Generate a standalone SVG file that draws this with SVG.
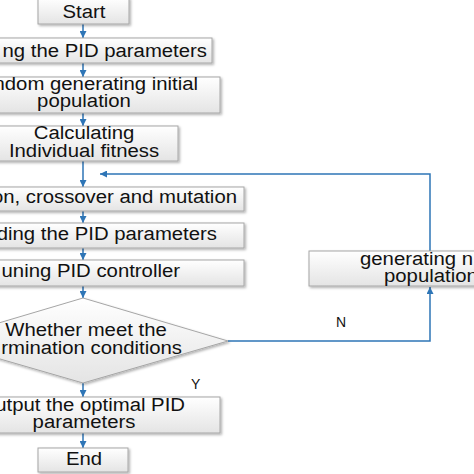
<svg xmlns="http://www.w3.org/2000/svg" width="474" height="474" viewBox="0 0 474 474">
<defs>
<linearGradient id="g" x1="0" y1="0" x2="0" y2="1">
<stop offset="0" stop-color="#ffffff"/>
<stop offset="1" stop-color="#e4e4e4"/>
</linearGradient>
<filter id="sh" x="-10%" y="-20%" width="130%" height="160%">
<feDropShadow dx="1.5" dy="1.5" stdDeviation="1" flood-color="#000" flood-opacity="0.3"/>
</filter>
<marker id="ah" viewBox="0 0 10 10" refX="10" refY="5" markerWidth="7" markerHeight="7" markerUnits="userSpaceOnUse" orient="auto">
<path d="M0,0 L10,5 L0,10 z" fill="#2e75b6"/>
</marker>
</defs>
<style>
.box{fill:url(#g);stroke:#a6a6a6;stroke-width:1;filter:url(#sh)}
.t{font-family:"Liberation Sans",Arial,sans-serif;font-size:18px;fill:#111}
.m{text-anchor:middle}
.e{text-anchor:end}
.lbl{font-family:"Liberation Sans",Arial,sans-serif;font-size:14px;fill:#111}
.c{fill:none;stroke:#2e75b6;stroke-width:1.5;marker-end:url(#ah)}
</style>
<rect width="474" height="474" fill="#fff"/>
<g id="connectors">
<line class="c" x1="83" y1="24" x2="83" y2="38"/>
<line class="c" x1="83" y1="63" x2="83" y2="77"/>
<line class="c" x1="83" y1="113" x2="83" y2="126"/>
<line class="c" x1="83" y1="161" x2="83" y2="187"/>
<line class="c" x1="83" y1="211" x2="83" y2="223"/>
<line class="c" x1="83" y1="248" x2="83" y2="260"/>
<line class="c" x1="83" y1="286" x2="83" y2="298"/>
<line class="c" x1="83" y1="383" x2="83" y2="397"/>
<line class="c" x1="83" y1="433" x2="83" y2="448"/>
<polyline class="c" points="228,341 430,341 430,287"/>
<polyline class="c" points="430,251 430,174 100,174"/>
</g>
<g id="start"><rect class="box" x="38" y="-2" width="91" height="26"/><text class="t m" transform="translate(84,18) scale(1.13,1)">Start</text></g>
<g id="encoding"><rect class="box" x="-46" y="38" width="258" height="25"/><text class="t e" transform="translate(207,57) scale(1.13,1)">ng the PID parameters</text></g>
<g id="random"><rect class="box" x="-54" y="77" width="274" height="36"/><text class="t e" transform="translate(198,90) scale(1.13,1)">ndom generating initial</text><text class="t m" transform="translate(84,107) scale(1.13,1)">population</text></g>
<g id="fitness"><rect class="box" x="-12" y="126" width="190" height="35"/><text class="t m" transform="translate(84,139) scale(1.13,1)">Calculating</text><text class="t m" transform="translate(84,157) scale(1.13,1)">Individual fitness</text></g>
<g id="selection"><rect class="box" x="-78" y="187" width="322" height="24"/><text class="t e" transform="translate(237,203) scale(1.13,1)">on, crossover and mutation</text></g>
<g id="decoding"><rect class="box" x="-78" y="223" width="322" height="25"/><text class="t e" transform="translate(217,240) scale(1.13,1)">ding the PID parameters</text></g>
<g id="tuning"><rect class="box" x="-78" y="260" width="322" height="26"/><text class="t e" transform="translate(180,277) scale(1.13,1)">uning PID controller</text></g>
<g id="decision"><polygon class="box" points="83,298 228,341 83,383 -62,341"/><text class="t m" transform="translate(86,336) scale(1.13,1)">Whether meet the</text><text class="t e" transform="translate(182,354) scale(1.13,1)">rmination conditions</text></g>
<g id="output"><rect class="box" x="-54" y="397" width="274" height="36"/><text class="t e" transform="translate(185,411) scale(1.13,1)">utput the optimal PID</text><text class="t m" transform="translate(84,428) scale(1.13,1)">parameters</text></g>
<g id="end"><rect class="box" x="38" y="448" width="90" height="24"/><text class="t m" transform="translate(84,465) scale(1.13,1)">End</text></g>
<g id="newpop"><rect class="box" x="309" y="251" width="180" height="35"/><text class="t" transform="translate(360,265) scale(1.13,1)">generating n</text><text class="t" transform="translate(384,282) scale(1.13,1)">population</text></g>
<text class="lbl" x="336" y="327">N</text>
<text class="lbl" x="191" y="389">Y</text>
</svg>
